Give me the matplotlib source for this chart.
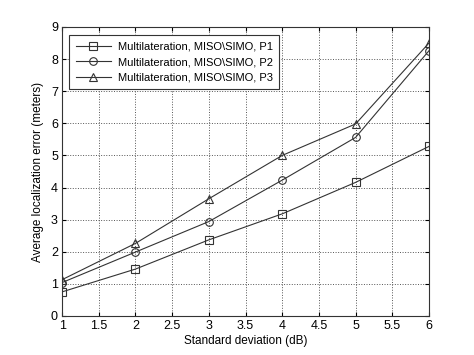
import matplotlib
matplotlib.use("Agg")
import matplotlib.pyplot as plt

plt.rcParams['font.family'] = ['Liberation Sans', 'DejaVu Sans']

std_dev = [1, 2, 3, 4, 5, 6]
err_p1 = [0.75, 1.46, 2.37, 3.18, 4.16, 5.28]
err_p2 = [1.04, 1.99, 2.94, 4.23, 5.56, 8.26]
err_p3 = [1.13, 2.26, 3.65, 5.0, 5.98, 8.5]
labels = ['Multilateration, MISO\\SIMO, P1',
          'Multilateration, MISO\\SIMO, P2',
          'Multilateration, MISO\\SIMO, P3']

fig = plt.figure(figsize=(4.74, 3.55), dpi=100)
ax = fig.add_axes([0.131, 0.110, 0.774, 0.814])

for y, m, lab in zip([err_p1, err_p2, err_p3], ['s', 'o', '^'], labels):
    ax.plot(std_dev, y, color='#333333', lw=0.8, marker=m, markersize=5.5,
            markerfacecolor='none', markeredgecolor='#333333', markeredgewidth=0.8, label=lab)

ax.set_xlim(1, 6)
ax.set_ylim(0, 9)
ax.set_xticks([1, 1.5, 2, 2.5, 3, 3.5, 4, 4.5, 5, 5.5, 6])
ax.set_xticklabels(['1', '1.5', '2', '2.5', '3', '3.5', '4', '4.5', '5', '5.5', '6'])
ax.set_yticks(range(10))
ax.grid(True, color='#555555', linestyle=':', linewidth=0.7)
ax.tick_params(direction='in', labelsize=9, length=3, top=True, right=True, pad=3)
for s in ax.spines.values():
    s.set_linewidth(0.8)
    s.set_color('#333333')

ax.set_xlabel('Standard deviation (dB)', fontsize=8.5, labelpad=2)
ax.set_ylabel('Average localization error (meters)', fontsize=8.5, labelpad=5)

leg = ax.legend(loc='upper left', fontsize=8, fancybox=False, framealpha=1,
                edgecolor='#333333', handlelength=3.2, handletextpad=0.6,
                borderpad=0.55, labelspacing=0.5, bbox_to_anchor=(0.005, 0.99))
leg.get_frame().set_linewidth(0.8)

fig.savefig('out.png', dpi=100)
